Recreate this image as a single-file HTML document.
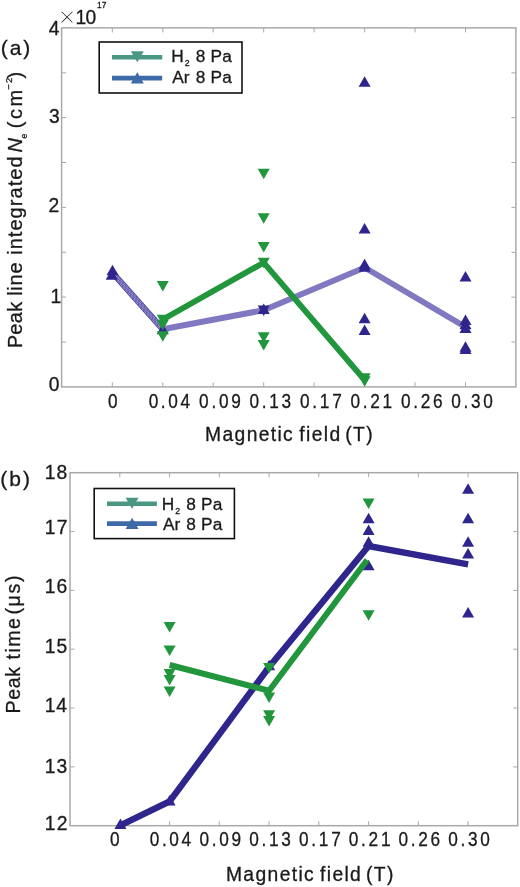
<!DOCTYPE html>
<html><head><meta charset="utf-8"><title>Figure</title>
<style>
html,body{margin:0;padding:0;background:#fff}
svg{display:block}
text{font-family:"Liberation Sans",Arial,sans-serif;fill:#1a1a1a;stroke:#1a1a1a;stroke-width:0.3px}
</style></head><body>
<svg width="520" height="887" viewBox="0 0 520 887">
<rect width="520" height="887" fill="#fff"/>
<rect x="61.6" y="27.9" width="454.29999999999995" height="359.0" fill="none" stroke="#a9a9a9" stroke-width="1.5"/>
<path d="M112.3,386.9v-4.5M112.3,27.9v4.5M162.8,386.9v-4.5M162.8,27.9v4.5M213.2,386.9v-4.5M213.2,27.9v4.5M263.7,386.9v-4.5M263.7,27.9v4.5M314.1,386.9v-4.5M314.1,27.9v4.5M364.6,386.9v-4.5M364.6,27.9v4.5M415.0,386.9v-4.5M415.0,27.9v4.5M465.5,386.9v-4.5M465.5,27.9v4.5M61.6,342.0h4.5M515.9,342.0h-4.5M61.6,297.1h4.5M515.9,297.1h-4.5M61.6,252.3h4.5M515.9,252.3h-4.5M61.6,207.4h4.5M515.9,207.4h-4.5M61.6,162.5h4.5M515.9,162.5h-4.5M61.6,117.6h4.5M515.9,117.6h-4.5M61.6,72.8h4.5M515.9,72.8h-4.5" stroke="#a9a9a9" stroke-width="1" fill="none"/>
<polyline points="112.0,272.3 162.8,329.3 263.7,310.2 364.6,267.5 465.5,327" fill="none" stroke="#8079c2" stroke-width="6" stroke-linejoin="miter"/>
<line x1="112.0" y1="272.3" x2="162.8" y2="329.3" stroke="#544ea6" stroke-width="5.8"/>
<line x1="113.27" y1="271.17" x2="164.02" y2="328.17" stroke="#e8e6f8" stroke-width="0.75" stroke-dasharray="1 1"/>
<line x1="112.43" y1="271.92" x2="163.18" y2="328.92" stroke="#e8e6f8" stroke-width="0.75" stroke-dasharray="1 1"/>
<line x1="111.57" y1="272.68" x2="162.32" y2="329.68" stroke="#e8e6f8" stroke-width="0.75" stroke-dasharray="1 1"/>
<line x1="110.73" y1="273.43" x2="161.48" y2="330.43" stroke="#e8e6f8" stroke-width="0.75" stroke-dasharray="1 1"/>
<polyline points="162.8,319.5 263.7,262.6 364.6,380" fill="none" stroke="#22963c" stroke-width="5.8" stroke-linejoin="miter"/>
<polygon points="105.7,279.8 117.7,279.8 111.7,269.2" fill="#2e268c"/>
<polygon points="106.5,275.2 118.5,275.2 112.5,264.8" fill="#2e268c"/>
<polygon points="156.8,334.2 168.8,334.2 162.8,323.8" fill="#2e268c"/>
<polygon points="257.7,313.9 269.7,313.9 263.7,303.4" fill="#2e268c"/>
<polygon points="358.6,86.8 370.6,86.8 364.6,76.3" fill="#2e268c"/>
<polygon points="358.6,233.6 370.6,233.6 364.6,223.1" fill="#2e268c"/>
<polygon points="358.6,269.2 370.6,269.2 364.6,258.8" fill="#2e268c"/>
<polygon points="358.6,271.8 370.6,271.8 364.6,261.2" fill="#2e268c"/>
<polygon points="358.6,323.2 370.6,323.2 364.6,312.8" fill="#2e268c"/>
<polygon points="358.6,334.9 370.6,334.9 364.6,324.4" fill="#2e268c"/>
<polygon points="459.5,281.4 471.5,281.4 465.5,270.9" fill="#2e268c"/>
<polygon points="459.5,324.9 471.5,324.9 465.5,314.4" fill="#2e268c"/>
<polygon points="459.5,329.2 471.5,329.2 465.5,318.8" fill="#2e268c"/>
<polygon points="459.5,333.1 471.5,333.1 465.5,322.6" fill="#2e268c"/>
<polygon points="459.5,351.8 471.5,351.8 465.5,341.2" fill="#2e268c"/>
<polygon points="459.5,354.1 471.5,354.1 465.5,343.6" fill="#2e268c"/>
<polygon points="257.7,305.6 269.7,305.6 263.7,316.1" fill="#2e268c"/>
<polygon points="156.8,280.9 168.8,280.9 162.8,291.4" fill="#22963c"/>
<polygon points="156.8,314.8 168.8,314.8 162.8,325.2" fill="#22963c"/>
<polygon points="156.8,319.8 168.8,319.8 162.8,330.2" fill="#22963c"/>
<polygon points="156.8,331.2 168.8,331.2 162.8,341.8" fill="#22963c"/>
<polygon points="257.7,168.7 269.7,168.7 263.7,179.2" fill="#22963c"/>
<polygon points="257.7,213.3 269.7,213.3 263.7,223.8" fill="#22963c"/>
<polygon points="257.7,242.1 269.7,242.1 263.7,252.6" fill="#22963c"/>
<polygon points="257.7,257.8 269.7,257.8 263.7,268.2" fill="#22963c"/>
<polygon points="257.7,332.2 269.7,332.2 263.7,342.8" fill="#22963c"/>
<polygon points="257.7,340.1 269.7,340.1 263.7,350.6" fill="#22963c"/>
<polygon points="358.6,373.2 370.6,373.2 364.6,383.8" fill="#22963c"/>
<polygon points="358.6,376.2 370.6,376.2 364.6,386.8" fill="#22963c"/>
<rect x="70" y="472.7" width="447.70000000000005" height="353.00000000000006" fill="none" stroke="#a9a9a9" stroke-width="1.5"/>
<path d="M119.8,825.7v-4.5M119.8,472.7v4.5M169.6,825.7v-4.5M169.6,472.7v4.5M219.3,825.7v-4.5M219.3,472.7v4.5M269.1,825.7v-4.5M269.1,472.7v4.5M318.8,825.7v-4.5M318.8,472.7v4.5M368.6,825.7v-4.5M368.6,472.7v4.5M418.3,825.7v-4.5M418.3,472.7v4.5M468.1,825.7v-4.5M468.1,472.7v4.5M70,766.9h4.5M517.7,766.9h-4.5M70,708.0h4.5M517.7,708.0h-4.5M70,649.2h4.5M517.7,649.2h-4.5M70,590.4h4.5M517.7,590.4h-4.5M70,531.6h4.5M517.7,531.6h-4.5" stroke="#a9a9a9" stroke-width="1" fill="none"/>
<polyline points="120.4,825.3 169.6,801.5 269.1,667 368.6,546 468.1,564.3" fill="none" stroke="#2e268c" stroke-width="6.4" stroke-linejoin="miter"/>
<polygon points="114.4,828.9 126.4,828.9 120.4,818.4" fill="#2e268c"/>
<polygon points="163.6,805.6 175.6,805.6 169.6,795.1" fill="#2e268c"/>
<polygon points="263.1,670.3 275.1,670.3 269.1,659.8" fill="#2e268c"/>
<polygon points="362.6,523.2 374.6,523.2 368.6,512.7" fill="#2e268c"/>
<polygon points="362.6,535.0 374.6,535.0 368.6,524.5" fill="#2e268c"/>
<polygon points="362.6,546.8 374.6,546.8 368.6,536.3" fill="#2e268c"/>
<polygon points="362.6,570.3 374.6,570.3 368.6,559.8" fill="#2e268c"/>
<polygon points="462.1,493.8 474.1,493.8 468.1,483.3" fill="#2e268c"/>
<polygon points="462.1,523.2 474.1,523.2 468.1,512.7" fill="#2e268c"/>
<polygon points="462.1,546.8 474.1,546.8 468.1,536.3" fill="#2e268c"/>
<polygon points="462.1,558.5 474.1,558.5 468.1,548.0" fill="#2e268c"/>
<polygon points="462.1,617.4 474.1,617.4 468.1,606.9" fill="#2e268c"/>
<polyline points="169.6,665 269.1,690.7 367.1,560" fill="none" stroke="#22963c" stroke-width="6" stroke-linejoin="miter"/>
<polygon points="163.6,621.9 175.6,621.9 169.6,632.4" fill="#22963c"/>
<polygon points="163.6,645.5 175.6,645.5 169.6,656.0" fill="#22963c"/>
<polygon points="163.6,669.0 175.6,669.0 169.6,679.5" fill="#22963c"/>
<polygon points="163.6,674.9 175.6,674.9 169.6,685.4" fill="#22963c"/>
<polygon points="163.6,686.6 175.6,686.6 169.6,697.1" fill="#22963c"/>
<polygon points="263.1,663.1 275.1,663.1 269.1,673.6" fill="#22963c"/>
<polygon points="263.1,692.5 275.1,692.5 269.1,703.0" fill="#22963c"/>
<polygon points="263.1,710.2 275.1,710.2 269.1,720.7" fill="#22963c"/>
<polygon points="263.1,716.1 275.1,716.1 269.1,726.6" fill="#22963c"/>
<polygon points="362.6,498.4 374.6,498.4 368.6,508.9" fill="#22963c"/>
<polygon points="362.6,610.2 374.6,610.2 368.6,620.7" fill="#22963c"/>
<rect x="99.2" y="42" width="142.8" height="51" fill="#fff" stroke="#111" stroke-width="1.6"/>
<line x1="112" x2="162.2" y1="57.2" y2="57.2" stroke="#4a9884" stroke-width="4.6"/>
<line x1="112" x2="162.2" y1="78.1" y2="78.1" stroke="#3f6aa8" stroke-width="4.6"/>
<polygon points="130.8,51.2 143.8,51.2 137.3,62.2" fill="#4a9884"/>
<polygon points="130.8,83.5 143.8,83.5 137.3,72.3" fill="#3f6aa8"/>
<text x="171.27" y="62" font-size="17.3">H</text>
<text x="184.76" y="66.3" font-size="8.7">2</text>
<text x="195.76" y="62" font-size="17.3">8</text>
<text x="210.47" y="62" font-size="17.3" letter-spacing="0.278">Pa</text>
<text x="172.36" y="82.5" font-size="17.3" letter-spacing="-0.097">Ar</text>
<text x="195.76" y="82.5" font-size="17.3">8</text>
<text x="210.47" y="82.5" font-size="17.3" letter-spacing="0.278">Pa</text>
<rect x="94.2" y="488.5" width="140.2" height="50.10000000000002" fill="#fff" stroke="#111" stroke-width="1.6"/>
<line x1="107" x2="156.9" y1="503.8" y2="503.8" stroke="#4a9884" stroke-width="4.6"/>
<line x1="107" x2="156.9" y1="523.6" y2="523.6" stroke="#3f6aa8" stroke-width="4.6"/>
<polygon points="125.6,497.8 138.6,497.8 132.1,508.8" fill="#4a9884"/>
<polygon points="125.6,529.0 138.6,529.0 132.1,517.8" fill="#3f6aa8"/>
<text x="161.87" y="509.6" font-size="17.3">H</text>
<text x="175.37" y="513.9" font-size="8.7">2</text>
<text x="186.36" y="509.6" font-size="17.3">8</text>
<text x="201.07" y="509.6" font-size="17.3" letter-spacing="0.278">Pa</text>
<text x="162.96" y="529.6" font-size="17.3" letter-spacing="-0.097">Ar</text>
<text x="186.36" y="529.6" font-size="17.3">8</text>
<text x="201.07" y="529.6" font-size="17.3" letter-spacing="0.278">Pa</text>
<text transform="translate(107.91,408.3) scale(0.87,1)" font-size="19.8">0</text>
<text transform="translate(110.01,845.5) scale(0.87,1)" font-size="19.8">0</text>
<text transform="translate(148.66,408.3) scale(0.87,1)" font-size="19.8" letter-spacing="3.011">0.04</text>
<text transform="translate(149.76,845.5) scale(0.87,1)" font-size="19.8" letter-spacing="3.011">0.04</text>
<text transform="translate(199.11,408.3) scale(0.87,1)" font-size="19.8" letter-spacing="3.126">0.09</text>
<text transform="translate(199.51,845.5) scale(0.87,1)" font-size="19.8" letter-spacing="3.126">0.09</text>
<text transform="translate(249.56,408.3) scale(0.87,1)" font-size="19.8" letter-spacing="3.110">0.13</text>
<text transform="translate(249.26,845.5) scale(0.87,1)" font-size="19.8" letter-spacing="3.110">0.13</text>
<text transform="translate(300.01,408.3) scale(0.87,1)" font-size="19.8" letter-spacing="3.159">0.17</text>
<text transform="translate(299.01,845.5) scale(0.87,1)" font-size="19.8" letter-spacing="3.159">0.17</text>
<text transform="translate(350.46,408.3) scale(0.87,1)" font-size="19.8" letter-spacing="3.143">0.21</text>
<text transform="translate(348.76,845.5) scale(0.87,1)" font-size="19.8" letter-spacing="3.143">0.21</text>
<text transform="translate(400.91,408.3) scale(0.87,1)" font-size="19.8" letter-spacing="3.110">0.26</text>
<text transform="translate(398.51,845.5) scale(0.87,1)" font-size="19.8" letter-spacing="3.110">0.26</text>
<text transform="translate(451.36,408.3) scale(0.87,1)" font-size="19.8" letter-spacing="3.077">0.30</text>
<text transform="translate(448.26,845.5) scale(0.87,1)" font-size="19.8" letter-spacing="3.077">0.30</text>
<text x="48.73" y="390.9" font-size="19.3">0</text>
<text x="50.45" y="302.5" font-size="19.3">1</text>
<text x="48.43" y="211.7" font-size="19.3">2</text>
<text x="48.98" y="123.3" font-size="19.3">3</text>
<text x="48.77" y="34.5" font-size="19.3">4</text>
<text x="44.85" y="829.6" font-size="19.3" letter-spacing="1.090">12</text>
<text x="44.85" y="772.9" font-size="19.3" letter-spacing="0.945">13</text>
<text x="44.85" y="712" font-size="19.3" letter-spacing="0.655">14</text>
<text x="44.85" y="652.7" font-size="19.3" letter-spacing="0.897">15</text>
<text x="44.85" y="592.5" font-size="19.3" letter-spacing="0.945">16</text>
<text x="44.85" y="534" font-size="19.3" letter-spacing="1.090">17</text>
<text x="44.85" y="478.8" font-size="19.3" letter-spacing="0.945">18</text>
<text x="58.30" y="26.6" font-size="30" style="stroke:#fff;stroke-width:1.3px">×</text>
<text x="75.55" y="23.8" font-size="19.3" letter-spacing="-0.852">10</text>
<text x="96.97" y="8.1" font-size="8.4" letter-spacing="0.026">17</text>
<text x="205.11" y="441.4" font-size="19.3" letter-spacing="1.345">Magnetic</text>
<text x="299.31" y="441.4" font-size="19.3" letter-spacing="1.382">field</text>
<text x="345.19" y="441.4" font-size="19.3" letter-spacing="1.478">(T)</text>
<text x="225.91" y="881" font-size="19.3" letter-spacing="1.373">Magnetic</text>
<text x="320.11" y="881" font-size="19.3" letter-spacing="1.332">field</text>
<text x="365.99" y="881" font-size="19.3" letter-spacing="1.378">(T)</text>
<text transform="translate(22.00,348.35) rotate(-90)" font-size="20" letter-spacing="0.317">Peak</text>
<text transform="translate(22.00,295.85) rotate(-90)" font-size="20" letter-spacing="0.767">line</text>
<text transform="translate(22.00,254.85) rotate(-90)" font-size="20" letter-spacing="1.050">integrated</text>
<text transform="translate(22.00,152.40) rotate(-90)" font-size="20" font-style="italic">N</text>
<text transform="translate(26.50,138.57) rotate(-90)" font-size="8.7">e</text>
<text transform="translate(22.00,128.25) rotate(-90)" font-size="20" letter-spacing="2.575">(cm</text>
<text transform="translate(11.80,89.67) rotate(-90)" font-size="9.4" letter-spacing="1.124">−2</text>
<text transform="translate(22.00,78.45) rotate(-90)" font-size="20">)</text>
<text transform="translate(20.30,713.62) rotate(-90)" font-size="19.6" letter-spacing="0.710">Peak</text>
<text transform="translate(20.30,659.49) rotate(-90)" font-size="19.6" letter-spacing="1.444">time</text>
<text transform="translate(20.30,614.62) rotate(-90)" font-size="19.6" letter-spacing="1.632">(μs)</text>
<text x="0.69" y="54.6" font-size="21" letter-spacing="1.976">(a)</text>
<text x="0.19" y="486.3" font-size="21" letter-spacing="2.076">(b)</text>
</svg>
</body></html>
